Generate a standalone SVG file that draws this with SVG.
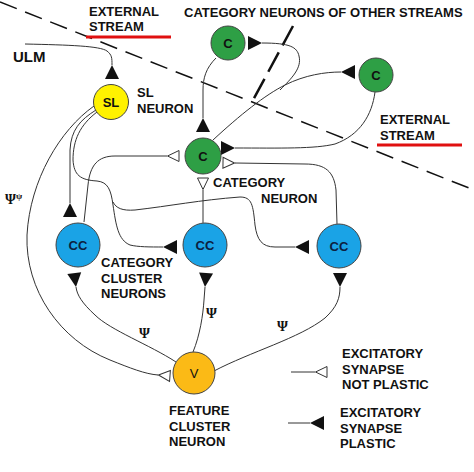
<svg xmlns="http://www.w3.org/2000/svg" width="474" height="472" viewBox="0 0 474 472">
<style>
.lbl{font-family:"Liberation Sans",Arial,sans-serif;font-weight:bold;font-size:13px;fill:#111}
.nl{font-family:"Liberation Sans",Arial,sans-serif;font-weight:bold;font-size:13px;fill:#111;text-anchor:middle}
.psi{font-family:"Liberation Serif","Times New Roman",serif;font-weight:bold;font-size:14px;fill:#111}
.con{fill:none;stroke:#333;stroke-width:1}
.nd{stroke:#444;stroke-width:1}
.red{stroke:#e01010;stroke-width:3}
</style>
<defs>
<marker id="sf" markerUnits="userSpaceOnUse" markerWidth="16" markerHeight="16" refX="0" refY="7" orient="auto" overflow="visible">
<path d="M0,7 L14,0 L14,14 Z" fill="#111"/>
</marker>
<marker id="so" markerUnits="userSpaceOnUse" markerWidth="16" markerHeight="16" refX="0" refY="6" orient="auto" overflow="visible">
<path d="M0.5,6 L12,0.5 L12,11.5 Z" fill="#fff" stroke="#333" stroke-width="1"/>
</marker>
</defs>
<rect width="474" height="472" fill="#fff"/>
<g id="dividers">
<line x1="0" y1="2" x2="474" y2="190" stroke="#111" stroke-width="1.5" stroke-dasharray="18 9"/>
<line x1="293" y1="26" x2="252" y2="102" stroke="#111" stroke-width="2.5" stroke-dasharray="22 8"/>
<line class="red" x1="86" y1="37" x2="171" y2="37"/>
<line class="red" x1="377" y1="145" x2="462" y2="145"/>
</g>
<g id="connectors">
<path class="con" d="M25,44 C70,45 100,46 107,51 C112,55 112,58 112,65" marker-end="url(#sf)"/>
<path class="con" d="M213,140 C240,115 265,95 285,85 C305,75 325,72 341,72" marker-end="url(#sf)"/>
<path class="con" d="M280,90 C292,78 302,68 299,56 C297,47 290,43 262,43" marker-end="url(#sf)"/>
<path class="con" d="M216,58 C206,68 203,78 203,90 L203,118" marker-end="url(#sf)"/>
<path class="con" d="M375,92 C372,115 360,135 335,144 C315,149 280,148 235,148" marker-end="url(#sf)"/>
<path class="con" d="M337,224 L336,190 C334,172 326,164 305,164 L235,163" marker-end="url(#so)"/>
<path class="con" d="M84,222 L88,185 C90,165 98,156 115,156 L167,156" marker-end="url(#so)"/>
<path class="con" d="M203,223 L203,190" marker-end="url(#so)"/>
<path class="con" d="M96,110 C80,120 71,130 70,150 L70,203" marker-end="url(#sf)"/>
<path class="con" d="M97,112 C80,125 73,140 73,160 C74,175 80,180 97,181 C108,182 111,190 113,205 C116,225 118,240 130,245 C138,247 150,247 163,247" marker-end="url(#sf)"/>
<path class="con" d="M113,202 C116,208 122,211 135,210 C170,206 200,200 240,197 C252,197 253,205 255,225 C257,240 262,247 275,247 L295,247" marker-end="url(#sf)"/>
<path class="con" d="M94,106 C60,130 30,180 27,235 C25,290 60,340 110,360 C130,368 145,374 158,375" marker-end="url(#so)"/>
<path class="con" d="M176,362 C150,345 110,330 95,315 C82,303 77,295 76,287" marker-end="url(#sf)"/>
<path class="con" d="M193,352 C200,335 203,315 204,300 L205,287" marker-end="url(#sf)"/>
<path class="con" d="M214,371 C250,352 300,338 325,318 C337,307 340,298 340,287" marker-end="url(#sf)"/>
<path class="con" d="M291,372 L315,372" marker-end="url(#so)"/>
<path class="con" d="M288,423 L310,423" marker-end="url(#sf)"/>
</g>
<g id="node-SL">
<circle class="nd" cx="111" cy="102" r="17.5" fill="#fff200"/>
<text class="nl" x="111" y="107">SL</text>
</g>
<g id="node-C-top">
<circle class="nd" cx="228" cy="43" r="17" fill="#2e9f45"/>
<text class="nl" x="228" y="48">C</text>
</g>
<g id="node-C-right">
<circle class="nd" cx="376" cy="75" r="17" fill="#2e9f45"/>
<text class="nl" x="376" y="80">C</text>
</g>
<g id="node-C">
<circle class="nd" cx="203" cy="156" r="18" fill="#2e9f45"/>
<text class="nl" x="203" y="161">C</text>
</g>
<g id="node-CC-left">
<circle class="nd" cx="78" cy="245" r="22" fill="#1aa3e6"/>
<text class="nl" x="78" y="250" style="fill:#0c2040">CC</text>
</g>
<g id="node-CC-mid">
<circle class="nd" cx="205" cy="245" r="22" fill="#1aa3e6"/>
<text class="nl" x="205" y="250" style="fill:#0c2040">CC</text>
</g>
<g id="node-CC-right">
<circle class="nd" cx="339" cy="246" r="22" fill="#1aa3e6"/>
<text class="nl" x="339" y="251" style="fill:#0c2040">CC</text>
</g>
<g id="node-V">
<circle class="nd" cx="194" cy="373" r="21" fill="#fbba16"/>
<text class="nl" x="194" y="378" style="font-weight:normal">V</text>
</g>
<g id="labels">
<text class="lbl" x="89" y="16">EXTERNAL</text>
<text class="lbl" x="89" y="31">STREAM</text>
<text class="lbl" x="184" y="17">CATEGORY NEURONS OF OTHER STREAMS</text>
<text class="lbl" x="13" y="62" style="font-size:15px">ULM</text>
<text class="lbl" x="137" y="97">SL</text>
<text class="lbl" x="137" y="113">NEURON</text>
<text class="lbl" x="380" y="124">EXTERNAL</text>
<text class="lbl" x="380" y="140">STREAM</text>
<text class="lbl" x="213" y="187">CATEGORY</text>
<text class="lbl" x="261" y="203">NEURON</text>
<text class="lbl" x="101" y="267">CATEGORY</text>
<text class="lbl" x="101" y="283">CLUSTER</text>
<text class="lbl" x="101" y="298">NEURONS</text>
<text class="lbl" x="169" y="415">FEATURE</text>
<text class="lbl" x="169" y="431">CLUSTER</text>
<text class="lbl" x="169" y="446">NEURON</text>
<text class="lbl" x="342" y="358">EXCITATORY</text>
<text class="lbl" x="342" y="374">SYNAPSE</text>
<text class="lbl" x="342" y="389">NOT PLASTIC</text>
<text class="lbl" x="340" y="417">EXCITATORY</text>
<text class="lbl" x="340" y="433">SYNAPSE</text>
<text class="lbl" x="340" y="448">PLASTIC</text>
<text class="psi" x="5" y="204">Ψ<tspan style="font-size:9px" dy="-5">ψ</tspan></text>
<text class="psi" x="139" y="338">Ψ</text>
<text class="psi" x="206" y="318">Ψ</text>
<text class="psi" x="277" y="331">Ψ</text>
</g>
</svg>
